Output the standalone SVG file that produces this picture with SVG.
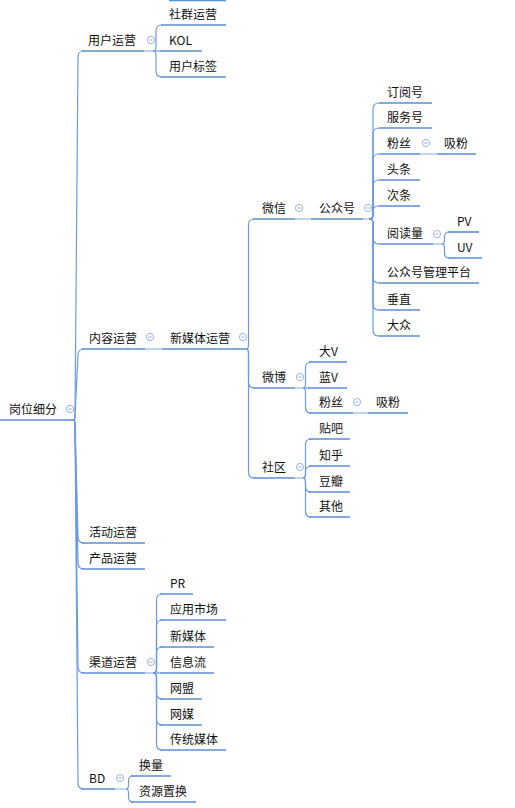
<svg xmlns="http://www.w3.org/2000/svg" width="515" height="808" viewBox="0 0 515 808">
<style>
.t{font-family:"Noto Sans CJK SC","Microsoft YaHei","Liberation Sans",sans-serif;font-size:12px;fill:#111}
.u{stroke:#5b8ed6;stroke-width:1.6;fill:none}
.c{stroke:#6b9ade;stroke-width:1.2;fill:none}
.l{stroke:#b3cbed;stroke-width:1.6;fill:none}
.b circle{fill:#fff;stroke:#9ab4de;stroke-width:1}
.b line{stroke:#9ab4de;stroke-width:1}
</style>
<defs>
<g id="btn" class="b"><circle cx="0" cy="0" r="3.6"/><line x1="-1.8" y1="0" x2="1.8" y2="0"/></g>
</defs>
<rect width="515" height="808" fill="#fff"/>
<g id="connectors">
<line class="u" x1="169" y1="0.5" x2="226" y2="0.5"/>
<!-- root -->
<path class="c" d="M73,420 Q75,420 75,416 L78,57 Q78,51 84,51"/>
<path class="c" d="M73,420 Q75,420 75,416 L78,355 Q78,349 84,349"/>
<path class="c" d="M73,420 Q75,420 75,424 L78,537 Q78,543 84,543"/>
<path class="c" d="M73,420 Q75,420 75,424 L78,563 Q78,569 84,569"/>
<path class="c" d="M73,420 Q75,420 75,424 L78,667 Q78,673 84,673"/>
<path class="c" d="M73,420 Q75,420 75,424 L78,783 Q78,789 84,789"/>
<!-- 用户运营 -->
<line class="l" x1="144" y1="51" x2="153" y2="51"/>
<path class="c" d="M153,51 Q156,51 156,47 L156,31 Q156,25 162,25"/>
<line class="c" x1="153" y1="51" x2="161" y2="51"/>
<path class="c" d="M153,51 Q156,51 156,55 L156,71 Q156,77 162,77"/>
<!-- 内容运营 -->
<line class="l" x1="145" y1="349" x2="162" y2="349"/>
<!-- 新媒体运营 -->
<path class="c" d="M246,349 Q248.5,349 248.5,345 L248.5,225 Q248.5,219 254,219"/>
<path class="c" d="M246,349 Q248.5,349 248.5,353 L248.5,382 Q248.5,388 254,388"/>
<path class="c" d="M246,349 Q248.5,349 248.5,353 L248.5,472 Q248.5,478 254,478"/>
<!-- 微信 -->
<line class="l" x1="295" y1="219" x2="311" y2="219"/>
<!-- 公众号 -->
<line class="l" x1="363" y1="219" x2="369" y2="219"/>
<path class="c" d="M369,219 Q373,219 373,215 L373,109 Q373,103 379,103"/>
<path class="c" d="M369,219 Q373,219 373,215 L373,134 Q373,128 379,128"/>
<path class="c" d="M369,219 Q373,219 373,215 L373,160 Q373,154 379,154"/>
<path class="c" d="M369,219 Q373,219 373,215 L373,186 Q373,180 379,180"/>
<path class="c" d="M369,219 Q373,219 373,215 L373,211 Q373,206 379,206"/>
<path class="c" d="M369,219 Q373,219 373,223 L373,238 Q373,244 379,244"/>
<path class="c" d="M369,219 Q373,219 373,223 L373,277 Q373,283 379,283"/>
<path class="c" d="M369,219 Q373,219 373,223 L373,304 Q373,310 379,310"/>
<path class="c" d="M369,219 Q373,219 373,223 L373,330 Q373,336 379,336"/>
<line class="l" x1="420" y1="154" x2="437" y2="154"/>
<!-- 阅读量 -->
<line class="l" x1="433" y1="244" x2="442" y2="244"/>
<path class="c" d="M442,244 Q444.5,244 444.5,240 L444.5,237 Q444.5,232 449,232"/>
<path class="c" d="M442,244 Q444.5,244 444.5,248 L444.5,253 Q444.5,258 449,258"/>
<!-- 微博 -->
<line class="l" x1="295" y1="388" x2="303" y2="388"/>
<path class="c" d="M303,388 Q305.5,388 305.5,384 L305.5,368 Q305.5,362 311,362"/>
<line class="c" x1="303" y1="388" x2="309" y2="388"/>
<path class="c" d="M303,388 Q305.5,388 305.5,392 L305.5,407 Q305.5,413 311,413"/>
<line class="l" x1="353" y1="413" x2="368" y2="413"/>
<!-- 社区 -->
<line class="l" x1="295" y1="478" x2="303" y2="478"/>
<path class="c" d="M303,478 Q305.5,478 305.5,474 L305.5,445 Q305.5,439 311,439"/>
<path class="c" d="M303,478 Q305.5,478 305.5,474 L305.5,472 Q305.5,466 311,466"/>
<path class="c" d="M303,478 Q305.5,478 305.5,482 L305.5,486 Q305.5,492 311,492"/>
<path class="c" d="M303,478 Q305.5,478 305.5,482 L305.5,511 Q305.5,517 311,517"/>
<!-- 渠道运营 -->
<line class="l" x1="145" y1="673" x2="153" y2="673"/>
<path class="c" d="M153,673 Q156.5,673 156.5,669 L156.5,600 Q156.5,594 162,594"/>
<path class="c" d="M153,673 Q156.5,673 156.5,669 L156.5,626 Q156.5,620 162,620"/>
<path class="c" d="M153,673 Q156.5,673 156.5,669 L156.5,653 Q156.5,647 162,647"/>
<line class="c" x1="153" y1="673" x2="161" y2="673"/>
<path class="c" d="M153,673 Q156.5,673 156.5,677 L156.5,693 Q156.5,699 162,699"/>
<path class="c" d="M153,673 Q156.5,673 156.5,677 L156.5,719 Q156.5,725 162,725"/>
<path class="c" d="M153,673 Q156.5,673 156.5,677 L156.5,744 Q156.5,750 162,750"/>
<!-- BD -->
<line class="l" x1="115" y1="789" x2="126" y2="789"/>
<path class="c" d="M126,789 Q128.5,789 128.5,785 L128.5,781 Q128.5,776 133,776"/>
<path class="c" d="M126,789 Q128.5,789 128.5,793 L128.5,797 Q128.5,802 133,802"/>
</g>
<g id="root"><text class="t" x="9" y="414">岗位细分</text><line class="u" x1="0" y1="420" x2="73" y2="420"/><use href="#btn" x="70" y="409"/></g>
<g id="yonghu"><text class="t" x="88" y="45">用户运营</text><line class="u" x1="82" y1="51" x2="144" y2="51"/><use href="#btn" x="151" y="40"/></g>
<g id="shequn"><text class="t" x="169" y="19">社群运营</text><line class="u" x1="161" y1="25" x2="226" y2="25"/></g>
<g id="kol"><text class="t" x="169" y="45">KOL</text><line class="u" x1="160" y1="51" x2="202" y2="51"/></g>
<g id="biaoqian"><text class="t" x="169" y="71">用户标签</text><line class="u" x1="161" y1="77" x2="226" y2="77"/></g>
<g id="neirong"><text class="t" x="89" y="343">内容运营</text><line class="u" x1="82" y1="349" x2="145" y2="349"/><use href="#btn" x="150" y="337"/></g>
<g id="xinmeiti"><text class="t" x="170" y="343">新媒体运营</text><line class="u" x1="162" y1="349" x2="246" y2="349"/><use href="#btn" x="243" y="337"/></g>
<g id="weixin"><text class="t" x="262" y="213">微信</text><line class="u" x1="253" y1="219" x2="295" y2="219"/><use href="#btn" x="299" y="208"/></g>
<g id="gzh"><text class="t" x="319" y="213">公众号</text><line class="u" x1="311" y1="219" x2="363" y2="219"/><use href="#btn" x="368" y="208"/></g>
<g id="dingyue"><text class="t" x="387" y="97">订阅号</text><line class="u" x1="379" y1="103" x2="432" y2="103"/></g>
<g id="fuwu"><text class="t" x="387" y="122">服务号</text><line class="u" x1="379" y1="128" x2="432" y2="128"/></g>
<g id="fensi1"><text class="t" x="387" y="148">粉丝</text><line class="u" x1="379" y1="154" x2="420" y2="154"/><use href="#btn" x="426" y="143"/></g>
<g id="xifen1"><text class="t" x="444" y="148">吸粉</text><line class="u" x1="437" y1="154" x2="476" y2="154"/></g>
<g id="toutiao"><text class="t" x="387" y="174">头条</text><line class="u" x1="379" y1="180" x2="420" y2="180"/></g>
<g id="citiao"><text class="t" x="387" y="200">次条</text><line class="u" x1="379" y1="206" x2="420" y2="206"/></g>
<g id="yuedu"><text class="t" x="387" y="238">阅读量</text><line class="u" x1="379" y1="244" x2="433" y2="244"/><use href="#btn" x="437" y="234"/></g>
<g id="pv"><text class="t" x="457" y="226">PV</text><line class="u" x1="448" y1="232" x2="479" y2="232"/></g>
<g id="uv"><text class="t" x="457" y="252">UV</text><line class="u" x1="448" y1="258" x2="482" y2="258"/></g>
<g id="guanli"><text class="t" x="387" y="277">公众号管理平台</text><line class="u" x1="379" y1="283" x2="479" y2="283"/></g>
<g id="chuizhi"><text class="t" x="387" y="304">垂直</text><line class="u" x1="379" y1="310" x2="420" y2="310"/></g>
<g id="dazhong"><text class="t" x="387" y="330">大众</text><line class="u" x1="379" y1="336" x2="420" y2="336"/></g>
<g id="weibo"><text class="t" x="262" y="382">微博</text><line class="u" x1="253" y1="388" x2="295" y2="388"/><use href="#btn" x="300" y="377"/></g>
<g id="dav"><text class="t" x="319" y="356">大V</text><line class="u" x1="309" y1="362" x2="347" y2="362"/></g>
<g id="lanv"><text class="t" x="319" y="382">蓝V</text><line class="u" x1="308" y1="388" x2="347" y2="388"/></g>
<g id="fensi2"><text class="t" x="319" y="407">粉丝</text><line class="u" x1="309" y1="413" x2="353" y2="413"/><use href="#btn" x="357" y="402"/></g>
<g id="xifen2"><text class="t" x="376" y="407">吸粉</text><line class="u" x1="368" y1="413" x2="408" y2="413"/></g>
<g id="shequ"><text class="t" x="262" y="472">社区</text><line class="u" x1="253" y1="478" x2="295" y2="478"/><use href="#btn" x="300" y="467"/></g>
<g id="tieba"><text class="t" x="319" y="433">贴吧</text><line class="u" x1="309" y1="439" x2="350" y2="439"/></g>
<g id="zhihu"><text class="t" x="319" y="460">知乎</text><line class="u" x1="309" y1="466" x2="350" y2="466"/></g>
<g id="douban"><text class="t" x="319" y="486">豆瓣</text><line class="u" x1="309" y1="492" x2="350" y2="492"/></g>
<g id="qita"><text class="t" x="319" y="511">其他</text><line class="u" x1="309" y1="517" x2="350" y2="517"/></g>
<g id="huodong"><text class="t" x="89" y="537">活动运营</text><line class="u" x1="82" y1="543" x2="145" y2="543"/></g>
<g id="chanpin"><text class="t" x="89" y="563">产品运营</text><line class="u" x1="82" y1="569" x2="145" y2="569"/></g>
<g id="qudao"><text class="t" x="89" y="667">渠道运营</text><line class="u" x1="82" y1="673" x2="145" y2="673"/><use href="#btn" x="151" y="662"/></g>
<g id="pr"><text class="t" x="170" y="588">PR</text><line class="u" x1="160" y1="594" x2="193" y2="594"/></g>
<g id="yingyong"><text class="t" x="170" y="614">应用市场</text><line class="u" x1="160" y1="620" x2="226" y2="620"/></g>
<g id="xinmt"><text class="t" x="170" y="641">新媒体</text><line class="u" x1="160" y1="647" x2="214" y2="647"/></g>
<g id="xinxiliu"><text class="t" x="170" y="667">信息流</text><line class="u" x1="160" y1="673" x2="214" y2="673"/></g>
<g id="wangmeng"><text class="t" x="170" y="693">网盟</text><line class="u" x1="160" y1="699" x2="202" y2="699"/></g>
<g id="wangmei"><text class="t" x="170" y="719">网媒</text><line class="u" x1="160" y1="725" x2="202" y2="725"/></g>
<g id="chuantong"><text class="t" x="170" y="744">传统媒体</text><line class="u" x1="160" y1="750" x2="226" y2="750"/></g>
<g id="bd"><text class="t" x="89" y="783">BD</text><line class="u" x1="82" y1="789" x2="115" y2="789"/><use href="#btn" x="120" y="778"/></g>
<g id="huanliang"><text class="t" x="139" y="770">换量</text><line class="u" x1="131" y1="776" x2="171" y2="776"/></g>
<g id="ziyuan"><text class="t" x="139" y="796">资源置换</text><line class="u" x1="131" y1="802" x2="196" y2="802"/></g>
</svg>
